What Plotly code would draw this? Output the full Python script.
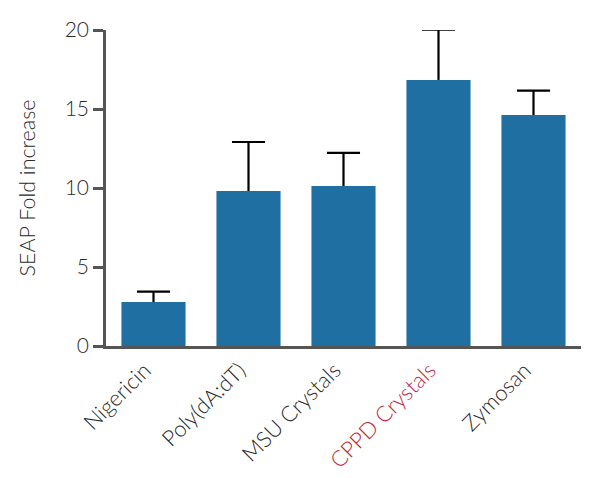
import plotly.graph_objects as go

categories = ["Nigericin", "Poly(dA:dT)", "MSU Crystals", "CPPD Crystals", "Zymosan"]
values = [2.78, 9.81, 10.13, 16.84, 14.62]
errors_plus = [0.66, 3.10, 2.09, 3.18, 1.54]
label_colors = ["#2a2a2a", "#2a2a2a", "#2a2a2a", "#c41e3a", "#2a2a2a"]
y_ticks = [0, 5, 10, 15, 20]

ticktext = [f'<span style="color:{c}">{t}</span>' for t, c in zip(categories, label_colors)]
xs = list(range(len(categories)))

# error bars (upper only) built from the data
cap = 0.174
ex, ey = [], []
for i, v, e in zip(xs, values, errors_plus):
    ex += [i, i, None, i - cap, i + cap, None]
    ey += [v, v + e, None, v + e, v + e, None]

fig = go.Figure()
fig.add_trace(go.Bar(
    x=xs, y=values,
    marker=dict(color="#1f6fa3", line=dict(width=0)),
))
fig.add_trace(go.Scatter(
    x=ex, y=ey, mode="lines",
    line=dict(color="black", width=2.2),
    hoverinfo="skip", cliponaxis=False,
))

fig.update_layout(
    width=592, height=470,
    margin=dict(l=98, r=19, t=22, b=132),
    paper_bgcolor="white", plot_bgcolor="white",
    bargap=0.325,
    showlegend=False,
    font=dict(family="Lato", color="#2a2a2a", weight=300),
    xaxis=dict(
        automargin=False,
        range=[-0.5, 4.5],
        tickvals=xs,
        ticktext=ticktext,
        tickangle=-45,
        ticklabelshift=-9,
        tickfont=dict(size=22, family="Lato", weight=300),
        showline=True, linecolor="#555555", linewidth=2.5,
        ticks="", showgrid=False, zeroline=False,
    ),
    yaxis=dict(
        automargin=False,
        range=[0, 20],
        tickvals=y_ticks,
        tickfont=dict(size=21, family="Lato", weight=300),
        showline=True, linecolor="#555555", linewidth=2.5,
        ticks="outside", ticklen=10, tickwidth=2.5, tickcolor="#555555",
        showgrid=False, zeroline=False,
        title=dict(text="SEAP Fold increase", font=dict(size=21.5, family="Lato", color="#2a2a2a", weight=300), standoff=24),
    ),
)

fig.write_html("out.html")
